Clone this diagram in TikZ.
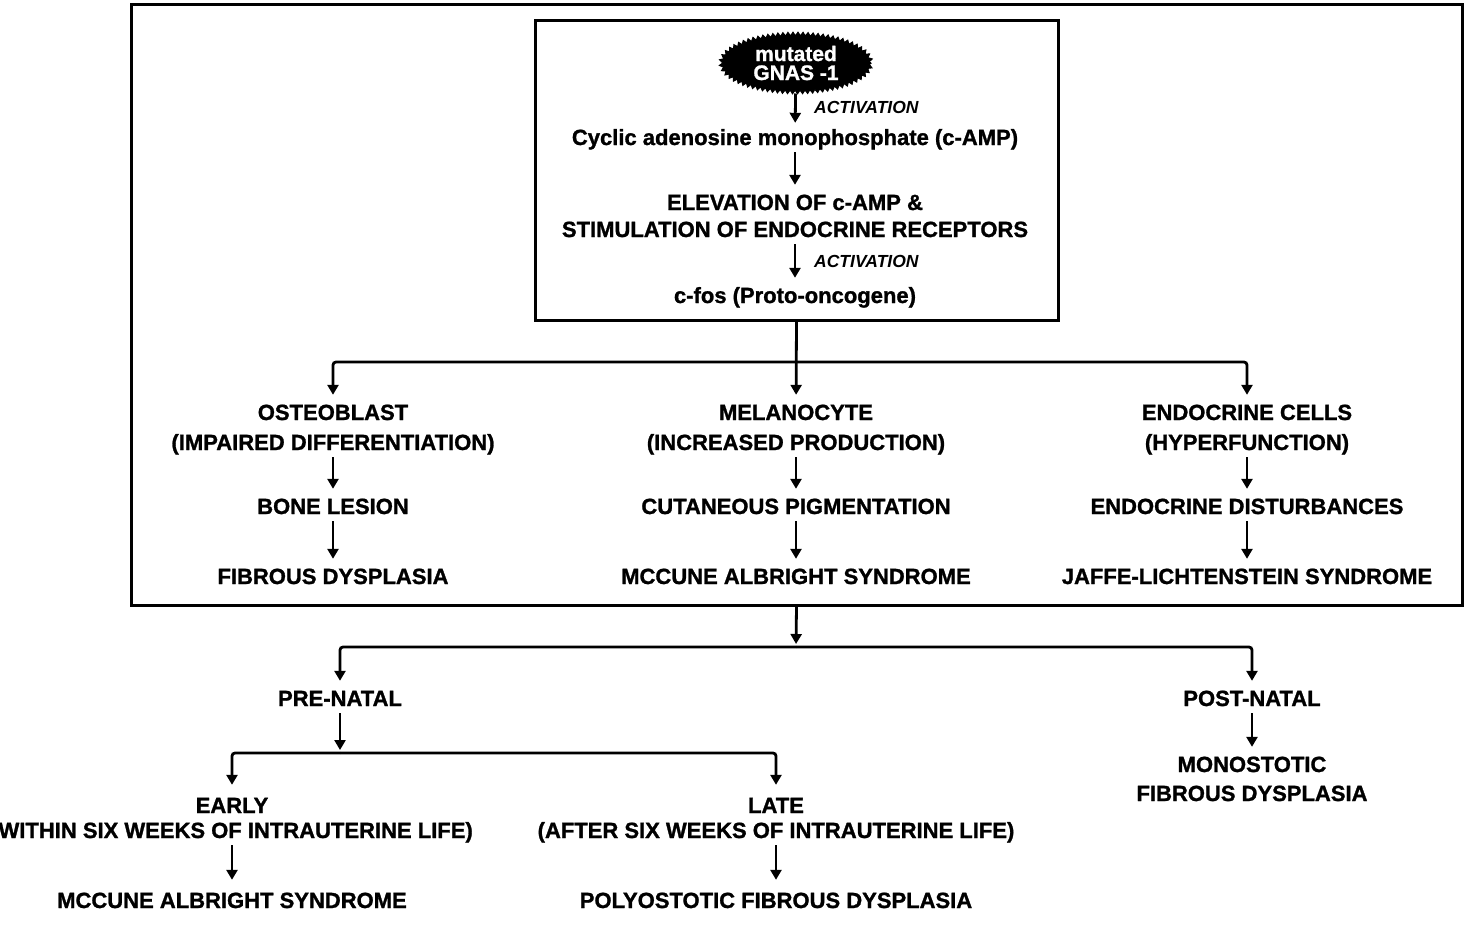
\documentclass[tikz,border=0pt]{standalone}
\usepackage{fontspec}
\setmainfont{Liberation Sans}[BoldFeatures={FakeBold=1.2}]
\usetikzlibrary{arrows.meta,shapes.geometric,decorations.pathmorphing}
\begin{document}
\begin{tikzpicture}[x=1pt,y=-1pt,
  txt/.style={font=\bfseries\fontsize{22}{26}\selectfont, text height=16pt, text depth=0pt, inner sep=0pt},
  act/.style={font=\bfseries\itshape\fontsize{17.5}{20}\selectfont, text height=13pt, text depth=0pt, inner sep=0pt, anchor=west},
  arr/.style={line width=2.8pt, -{Triangle[width=11pt,length=10pt]}, shorten <=7pt, shorten >=9pt},
  br/.style={line width=2.8pt, rounded corners=3pt, -{Triangle[width=11pt,length=10pt]}, shorten >=9pt},
  ln/.style={line width=2.8pt},
  box/.style={draw, line width=3pt, inner sep=0pt}]
\useasboundingbox (0,0) rectangle (1475,935);

% boxes
\node[box, minimum width=1331pt, minimum height=601pt] (outer) at (796.5,304.5) {};
\node[box, minimum width=523pt, minimum height=300pt] (inner) at (796.5,170) {};

% top chain
\node[ellipse, fill=black, draw=black, line width=1pt, minimum width=150pt, minimum height=58pt, inner sep=0pt,
      decorate, decoration={zigzag, segment length=5pt, amplitude=1.8pt},
      text=white, align=center, font=\bfseries\fontsize{21}{19}\selectfont] (gnas) at (796,63) {mutated\\GNAS -1};
\node[txt] (camp) at (795,137) {Cyclic adenosine monophosphate (c-AMP)};
\node[txt] (elev1) at (795,202) {ELEVATION OF c-AMP \&};
\node[txt] (elev2) at (795,229) {STIMULATION OF ENDOCRINE RECEPTORS};
\node[txt] (cfos) at (795,295) {c-fos (Proto-oncogene)};
\node[act] (act1) at (814,107) {ACTIVATION};
\node[act] (act2) at (814,261) {ACTIVATION};

\draw[arr, shorten <=1pt, shorten >=6pt] (gnas) -- (camp);
\draw[arr] (camp) -- (elev1);
\draw[arr] (elev2) -- (cfos);

% three columns
\node[txt] (osteo1) at (333,412) {OSTEOBLAST};
\node[txt] (osteo2) at (333,442) {(IMPAIRED DIFFERENTIATION)};
\node[txt] (bone) at (333,506) {BONE LESION};
\node[txt] (fd) at (333,576) {FIBROUS DYSPLASIA};

\node[txt] (mel1) at (796,412) {MELANOCYTE};
\node[txt] (mel2) at (796,442) {(INCREASED PRODUCTION)};
\node[txt] (cut) at (796,506) {CUTANEOUS PIGMENTATION};
\node[txt] (mcas) at (796,576) {MCCUNE ALBRIGHT SYNDROME};

\node[txt] (endo1) at (1247,412) {ENDOCRINE CELLS};
\node[txt] (endo2) at (1247,442) {(HYPERFUNCTION)};
\node[txt] (dist) at (1247,506) {ENDOCRINE DISTURBANCES};
\node[txt] (jl) at (1247,576) {JAFFE-LICHTENSTEIN SYNDROME};

\coordinate (j1) at (796,362);
\draw[br] (inner.south) -- (mel1);
\draw[br] (j1) -| (osteo1);
\draw[br] (j1) -| (endo1);

\draw[arr] (osteo2) -- (bone);
\draw[arr] (bone) -- (fd);
\draw[arr] (mel2) -- (cut);
\draw[arr] (cut) -- (mcas);
\draw[arr] (endo2) -- (dist);
\draw[arr] (dist) -- (jl);

% lower part
\coordinate (j2) at (796,647);
\node[txt] (pre) at (340,698) {PRE-NATAL};
\node[txt] (post) at (1252,698) {POST-NATAL};
\node[txt] (mono1) at (1252,764) {MONOSTOTIC};
\node[txt] (mono2) at (1252,793) {FIBROUS DYSPLASIA};

\draw[br, shorten >=3pt] (outer.south) -- (j2);
\draw[br] (j2) -| (pre);
\draw[br] (j2) -| (post);
\draw[arr] (post) -- (mono1);

\coordinate (j3) at (340,753);
\node[txt] (early1) at (232,805) {EARLY};
\node[txt] (early2) at (232,830) {(WITHIN SIX WEEKS OF INTRAUTERINE LIFE)};
\node[txt] (mcab) at (232,900) {MCCUNE ALBRIGHT SYNDROME};
\node[txt] (late1) at (776,805) {LATE};
\node[txt] (late2) at (776,830) {(AFTER SIX WEEKS OF INTRAUTERINE LIFE)};
\node[txt] (pfd) at (776,900) {POLYOSTOTIC FIBROUS DYSPLASIA};

\draw[arr, shorten >=3pt] (pre) -- (j3);
\draw[br, shorten >=12pt] (j3) -| (early1);
\draw[br, shorten >=12pt] (j3) -| (late1);
\draw[arr, shorten >=12pt] (early2) -- (mcab);
\draw[arr, shorten >=12pt] (late2) -- (pfd);
\end{tikzpicture}
\end{document}
